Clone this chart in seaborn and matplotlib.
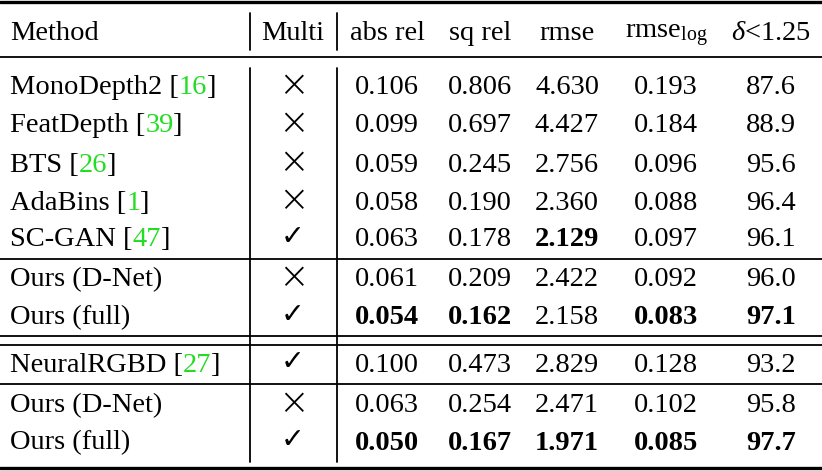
import matplotlib
matplotlib.use("Agg")
import matplotlib.pyplot as plt
import seaborn as sns

sns.set_theme(style="white")
plt.rcParams['font.family'] = ['Liberation Serif', 'DejaVu Sans']
plt.rcParams['text.color'] = 'black'
plt.rcParams['mathtext.fontset'] = 'custom'
plt.rcParams['mathtext.rm'] = 'Liberation Serif'
plt.rcParams['mathtext.it'] = 'Liberation Serif:italic'

# table data
columns = ["Method", "Multi", "abs rel", "sq rel", "rmse", r"rmse$_{\mathrm{log}}$", r"$\delta$<1.25"]
methods = ["MonoDepth2", "FeatDepth", "BTS", "AdaBins", "SC-GAN",
           "Ours (D-Net)", "Ours (full)", "NeuralRGBD", "Ours (D-Net)", "Ours (full)"]
refs = ["16", "39", "26", "1", "47", "", "", "27", "", ""]
multi = [False, False, False, False, True, False, True, True, False, True]
abs_rel = ["0.106", "0.099", "0.059", "0.058", "0.063", "0.061", "0.054", "0.100", "0.063", "0.050"]
sq_rel = ["0.806", "0.697", "0.245", "0.190", "0.178", "0.209", "0.162", "0.473", "0.254", "0.167"]
rmse = ["4.630", "4.427", "2.756", "2.360", "2.129", "2.422", "2.158", "2.829", "2.471", "1.971"]
rmse_log = ["0.193", "0.184", "0.096", "0.088", "0.097", "0.092", "0.083", "0.128", "0.102", "0.085"]
delta = ["87.6", "88.9", "95.6", "96.4", "96.1", "96.0", "97.1", "93.2", "95.8", "97.7"]
# bold flags per row: abs rel, sq rel, rmse, rmse_log, delta
bold = [(0, 0, 0, 0, 0), (0, 0, 0, 0, 0), (0, 0, 0, 0, 0), (0, 0, 0, 0, 0), (0, 0, 1, 0, 0),
        (0, 0, 0, 0, 0), (1, 1, 0, 1, 1), (0, 0, 0, 0, 0), (0, 0, 0, 0, 0), (1, 1, 1, 1, 1)]

W, H = 822, 471
fig = plt.figure(figsize=(8.22, 4.71), dpi=100)
ax = fig.add_axes([0, 0, 1, 1])
ax.set_xlim(0, W)
ax.set_ylim(H, 0)
ax.axis("off")

fs = 20.5
green = "#22dd22"
row_y = [85, 123, 162, 200, 237, 277, 315, 362, 403, 440]
col_x = [387, 480, 567, 666, 771]
va = "center_baseline"

# header
ax.text(10, 30, columns[0], fontsize=fs, va=va, ha="left")
ax.text(293, 30, columns[1], fontsize=fs, va=va, ha="center")
for x, c in zip(col_x, columns[2:]):
    ax.text(x, 30, c, fontsize=fs, va=va, ha="center")

# rules
lw_thick, lw_thin = 2.4, 1.3
ax.plot([0, W], [2, 2], color="black", lw=lw_thick)
ax.plot([0, W], [57, 57], color="black", lw=lw_thin)
ax.plot([0, W], [259, 259], color="black", lw=lw_thin)
ax.plot([0, W], [336, 336], color="black", lw=lw_thin)
ax.plot([0, W], [345, 345], color="black", lw=lw_thin)
ax.plot([0, W], [384, 384], color="black", lw=lw_thin)
ax.plot([0, W], [468, 468], color="black", lw=lw_thick)
for x in (250, 337):
    ax.plot([x, x], [13, 50], color="black", lw=lw_thin)
    ax.plot([x, x], [68, 462], color="black", lw=lw_thin)

# rows
for i, y in enumerate(row_y):
    if refs[i]:
        t = ax.text(10, y, methods[i] + " [", fontsize=fs, va=va, ha="left")
        t2 = ax.annotate(refs[i], xy=(1, 0), xycoords=t, va="bottom", ha="left",
                         fontsize=fs, color=green)
        ax.annotate("]", xy=(1, 0), xycoords=t2, va="bottom", ha="left", fontsize=fs)
    else:
        ax.text(10, y, methods[i], fontsize=fs, va=va, ha="left")
    if multi[i]:
        ax.text(293, y, "\u2713", fontsize=fs, va="center", ha="center", family=['DejaVu Sans'])
    else:
        ax.text(293, y, "\u00d7", fontsize=fs + 6, va="center", ha="center",
                family=['DejaVu Sans'], fontweight="light")
    vals = [abs_rel[i], sq_rel[i], rmse[i], rmse_log[i], delta[i]]
    for x, v, b in zip(col_x, vals, bold[i]):
        ax.text(x, y, v, fontsize=fs, va=va, ha="center",
                fontweight="bold" if b else "normal")

fig.savefig("out.png", dpi=100)
